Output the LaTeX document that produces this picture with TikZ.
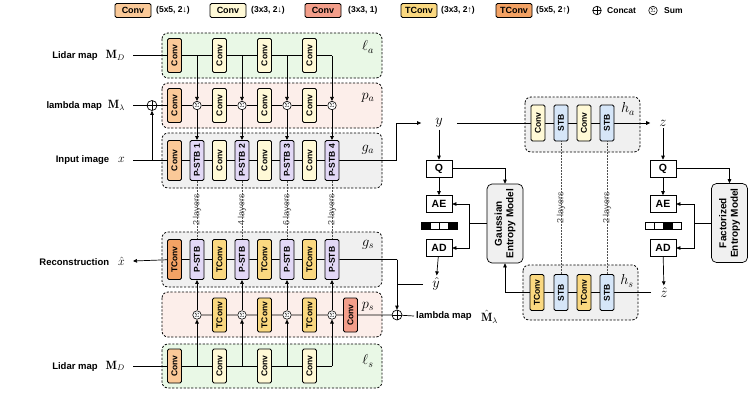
\documentclass[tikz,border=0pt]{standalone}
\usepackage{fontspec}
\setsansfont{Liberation Sans}
\usetikzlibrary{arrows.meta,calc}
\definecolor{cOr}{RGB}{250,201,152}
\definecolor{cYl}{RGB}{255,249,214}
\definecolor{cSa}{RGB}{243,158,138}
\definecolor{cTy}{RGB}{250,216,128}
\definecolor{cTo}{RGB}{243,162,100}
\definecolor{cPs}{RGB}{226,216,246}
\definecolor{cSt}{RGB}{214,230,248}
\definecolor{bGr}{RGB}{233,248,230}
\definecolor{bPk}{RGB}{252,238,234}
\definecolor{bGy}{RGB}{240,240,240}
\definecolor{cLay}{RGB}{80,80,80}
\pgfdeclarelayer{bg}
\pgfdeclarelayer{lines}
\pgfsetlayers{bg,lines,main}
\begin{document}
\begin{tikzpicture}[x=1pt,y=-1pt,
  blk/.style={draw, line width=0.9pt, rounded corners=1.6pt, rotate=90, inner sep=0pt, minimum height=14pt, font=\sffamily\bfseries\fontsize{8.5}{8.5}\selectfont},
  sb/.style={blk, minimum width=34pt},
  gb/.style={blk, minimum width=40pt},
  hb/.style={blk, minimum width=36pt},
  lg/.style={draw, line width=0.9pt, rounded corners=1.6pt, minimum width=36pt, minimum height=14pt, inner sep=0pt, font=\sffamily\bfseries\fontsize{9}{9}\selectfont},
  lt/.style={anchor=west, inner sep=0pt, font=\sffamily\bfseries\fontsize{8.5}{10}\selectfont},
  bgbox/.style={draw, dashed, line width=0.8pt, dash pattern=on 2.2pt off 1.6pt, rounded corners=6pt},
  bl/.style={font=\fontsize{14.4}{14.4}\selectfont, inner sep=0pt},
  sumc/.style={circle, draw, line width=0.6pt, fill=white, minimum size=8.5pt, inner sep=0pt, font=\fontsize{6}{6}\selectfont},
  catc/.style={circle, draw, line width=0.7pt, fill=white, minimum size=10pt, inner sep=0pt,
    path picture={\draw[line width=0.6pt] (path picture bounding box.north) -- (path picture bounding box.south) (path picture bounding box.west) -- (path picture bounding box.east);}},
  ln/.style={line width=0.7pt},
  arr/.style={ln, -{Triangle[length=4pt,width=3.6pt]}},
  dotl/.style={line width=0.5pt, densely dotted, draw=cLay},
  laylab/.style={rotate=90, inner sep=0pt, text=cLay, font=\sffamily\fontsize{9}{9}\selectfont},
  lab/.style={anchor=east, inner xsep=8pt, inner ysep=1pt, font=\sffamily\bfseries\fontsize{9.5}{10}\selectfont},
  qb/.style={draw, line width=0.7pt, minimum width=26pt, minimum height=17pt, inner sep=0pt, fill=white, font=\sffamily\bfseries\fontsize{10.5}{10.5}\selectfont},
  em/.style={draw, line width=0.7pt, rounded corners=5pt, rotate=90, fill=bGy, minimum width=79pt, minimum height=36pt, align=center, inner sep=0pt, font=\sffamily\bfseries\fontsize{10}{11.5}\selectfont},
  mn/.style={font=\fontsize{14.4}{14.4}\selectfont, inner xsep=9pt, inner ysep=2pt}
]
\useasboundingbox (0,0) rectangle (748,392);

% ---------- legend ----------
\node[lg, fill=cOr] (lg1) at (133,10.5) {Conv};
\node[lt] (lt1) at (156,10.5) {(5x5, 2↓)};
\node[lg, fill=cYl] (lg2) at (228,10.5) {Conv};
\node[lt] (lt2) at (251,10.5) {(3x3, 2↓)};
\node[lg, fill=cSa] (lg3) at (323,10.5) {Conv};
\node[lt] (lt3) at (348,10.5) {(3x3, 1)};
\node[lg, fill=cTy] (lg4) at (419,10.5) {TConv};
\node[lt] (lt4) at (441,10.5) {(3x3, 2↑)};
\node[lg, fill=cTo] (lg5) at (514,10.5) {TConv};
\node[lt] (lt5) at (536,10.5) {(5x5, 2↑)};
\node[catc, minimum size=8.5pt] (lg6) at (597,10.5) {};
\node[lt] (lt6) at (607,10.5) {Concat};
\node[sumc] (lg7) at (653,10.5) {$\Sigma$};
\node[lt] (lt7) at (664,10.5) {Sum};

% ---------- background boxes ----------
\begin{pgfonlayer}{bg}
\draw[bgbox, fill=bGr] (162,33) rectangle (382,78);
\draw[bgbox, fill=bPk] (162,83) rectangle (382,128);
\draw[bgbox, fill=bGy] (162,133) rectangle (382,188);
\draw[bgbox, fill=bGy] (162,232) rectangle (382,287);
\draw[bgbox, fill=bPk] (162,292) rectangle (382,337);
\draw[bgbox, fill=bGr] (162,344) rectangle (382,388);
\draw[bgbox, fill=bGy] (525,97) rectangle (640,152);
\draw[bgbox, fill=bGy] (523,265) rectangle (638,320);
\end{pgfonlayer}

\node[bl] (tla) at (368,47) {$\ell_a$};
\node[bl] (tpa) at (368,98) {$p_a$};
\node[bl] (tga) at (368,150) {$g_a$};
\node[bl] (tgs) at (368,245) {$g_s$};
\node[bl] (tps) at (368,307) {$p_s$};
\node[bl] (tls) at (368,361) {$\ell_s$};
\node[bl] (tha) at (628,109) {$h_a$};
\node[bl] (ths) at (627,281) {$h_s$};

% ---------- left labels ----------
\node[lab] (lidA) at (133,55.5) {Lidar map\hspace{8pt}{\fontsize{12}{12}\selectfont$\mathbf{M}_D$}};
\node[lab] (lamA) at (133,105.5) {lambda map\hspace{6pt}{\fontsize{12}{12}\selectfont$\mathbf{M}_\lambda$}};
\node[lab] (inpA) at (133,160.5) {Input image\hspace{9pt}{\fontsize{12}{12}\selectfont$x$}\hspace{8pt}};
\node[lab] (recA) at (133,261) {Reconstruction\hspace{9pt}{\fontsize{12}{12}\selectfont$\hat{x}$}\hspace{7pt}};
\node[lab] (lidB) at (133,366) {Lidar map\hspace{8pt}{\fontsize{12}{12}\selectfont$\mathbf{M}_D$}};

% ---------- l_a ----------
\node[sb, fill=cOr] (la0) at (174.5,55.5) {Conv};
\node[sb, fill=cYl] (la2) at (219.5,55.5) {Conv};
\node[sb, fill=cYl] (la4) at (264.5,55.5) {Conv};
\node[sb, fill=cYl] (la6) at (309.5,55.5) {Conv};
\coordinate (la7) at (332,55.5);

% ---------- p_a ----------
\node[catc] (cat1) at (152,105.5) {};
\node[sb, fill=cOr] (pa0) at (174.5,105.5) {Conv};
\node[sumc] (pa1) at (197,105.5) {$\Sigma$};
\node[sb, fill=cYl] (pa2) at (219.5,105.5) {Conv};
\node[sumc] (pa3) at (242,105.5) {$\Sigma$};
\node[sb, fill=cYl] (pa4) at (264.5,105.5) {Conv};
\node[sumc] (pa5) at (287,105.5) {$\Sigma$};
\node[sb, fill=cYl] (pa6) at (309.5,105.5) {Conv};
\node[sumc] (pa7) at (332,105.5) {$\Sigma$};

% ---------- g_a ----------
\node[gb, fill=cOr] (ga0) at (174.5,160.5) {Conv};
\node[gb, fill=cPs] (ga1) at (197,160.5) {P-STB 1};
\node[gb, fill=cYl] (ga2) at (219.5,160.5) {Conv};
\node[gb, fill=cPs] (ga3) at (242,160.5) {P-STB 2};
\node[gb, fill=cYl] (ga4) at (264.5,160.5) {Conv};
\node[gb, fill=cPs] (ga5) at (287,160.5) {P-STB 3};
\node[gb, fill=cYl] (ga6) at (309.5,160.5) {Conv};
\node[gb, fill=cPs] (ga7) at (332,160.5) {P-STB 4};
\coordinate (gaout) at (396,160.5);

% ---------- g_s ----------
\node[gb, fill=cTo] (gs0) at (174.5,259.5) {TConv};
\node[gb, fill=cPs] (gs1) at (197,259.5) {P-STB};
\node[gb, fill=cTy] (gs2) at (219.5,259.5) {TConv};
\node[gb, fill=cPs] (gs3) at (242,259.5) {P-STB};
\node[gb, fill=cTy] (gs4) at (264.5,259.5) {TConv};
\node[gb, fill=cPs] (gs5) at (287,259.5) {P-STB};
\node[gb, fill=cTy] (gs6) at (309.5,259.5) {TConv};
\node[gb, fill=cPs] (gs7) at (332,259.5) {P-STB};
\coordinate (gsin) at (397,259.5);

% ---------- p_s ----------
\node[sumc] (ps1) at (197,315) {$\Sigma$};
\node[sb, fill=cTy] (ps2) at (219.5,315) {TConv};
\node[sumc] (ps3) at (242,315) {$\Sigma$};
\node[sb, fill=cTy] (ps4) at (264.5,315) {TConv};
\node[sumc] (ps5) at (287,315) {$\Sigma$};
\node[sb, fill=cTy] (ps6) at (309.5,315) {TConv};
\node[sumc] (ps7) at (332,315) {$\Sigma$};
\node[sb, fill=cSa] (ps8) at (350.5,315) {Conv};
\node[catc] (cat2) at (397,315) {};
\node[anchor=west, inner sep=2pt, font=\sffamily\bfseries\fontsize{9.5}{10}\selectfont] (lamB) at (414,316) {lambda map};
\node[anchor=west, inner sep=0pt, font=\fontsize{12}{12}\selectfont] (lamBm) at ([xshift=7pt,yshift=-0.5pt]lamB.east) {$\hat{\mathbf{M}}_\lambda$};

% ---------- l_s ----------
\node[sb, fill=cOr] (ls0) at (174.5,366) {Conv};
\node[sb, fill=cYl] (ls2) at (219.5,366) {Conv};
\node[sb, fill=cYl] (ls4) at (264.5,366) {Conv};
\node[sb, fill=cYl] (ls6) at (309.5,366) {Conv};
\coordinate (ls7) at (332,366);

% ---------- hyper ----------
\node[mn, inner xsep=14pt] (ynode) at (439,123) {$y$};
\node[hb, fill=cYl] (ha1) at (538,123) {Conv};
\node[hb, fill=cSt] (ha2) at (561,123) {STB};
\node[hb, fill=cYl] (ha3) at (584,123) {Conv};
\node[hb, fill=cSt] (ha4) at (607,123) {STB};
\node[mn] (znode) at (663,123) {$z$};

\node[hb, fill=cTy] (hs1) at (537,292.5) {TConv};
\node[hb, fill=cSt] (hs2) at (561,292.5) {STB};
\node[hb, fill=cTy] (hs3) at (584,292.5) {TConv};
\node[hb, fill=cSt] (hs4) at (607,292.5) {STB};
\node[mn] (zhat) at (664,292.5) {$\hat{z}$};
\coordinate (hsout) at (505,292.5);

\node[qb] (q1) at (439,168.5) {Q};
\node[qb] (ae1) at (439,204) {AE};
\node[qb] (ad1) at (439,248) {AD};
\node[mn] (yhat) at (436,284) {$\hat{y}$};
\node[em] (gem) at (505,223.5) {Gaussian\\Entropy Model};
\coordinate (j1) at (469,223.5);

\node[qb] (q2) at (663,168.5) {Q};
\node[qb] (ae2) at (663,204) {AE};
\node[qb] (ad2) at (663,248) {AD};
\node[em] (fem) at (729.5,223) {Factorized\\Entropy Model};
\coordinate (j2) at (694,223);

\foreach \i/\c in {0/black,1/white,2/white,3/black}
  \draw[line width=0.6pt, fill=\c] (421+9*\i,222) rectangle ++(9,7);
\foreach \i/\c in {0/white,1/white,2/black,3/white}
  \draw[line width=0.6pt, fill=\c] (645+9*\i,222) rectangle ++(9,7);

% ---------- connectors ----------
\begin{pgfonlayer}{lines}
% encoder
\draw[ln] (lidA.east) -- (la0) -- (la2) -- (la4) -- (la6) -- (la7);
\draw[ln] (lamA.east) -- (cat1) -- (pa0) -- (pa1) -- (pa2) -- (pa3) -- (pa4) -- (pa5) -- (pa6) -- (pa7);
\draw[ln] (inpA.east) -- (ga0) -- (ga1) -- (ga2) -- (ga3) -- (ga4) -- (ga5) -- (ga6) -- (ga7) -- (gaout);
\draw[arr] (gaout) |- (ynode);
\draw[arr] (cat1 |- ga0) -- (cat1);
\foreach \k in {1,3,5}{
  \draw[arr] (pa\k |- la0) -- (pa\k);
}
\draw[arr] (la7) -- (pa7);
\foreach \k in {1,3,5,7}{
  \draw[arr] (pa\k) -- (ga\k);
}
% decoder
\draw[arr] (gsin) -- (gs7) -- (gs6) -- (gs5) -- (gs4) -- (gs3) -- (gs2) -- (gs1) -- (gs0) -- (recA.east);
\draw[ln] (yhat) -- (yhat -| gsin) -- (gsin);
\draw[arr] (gsin) -- (cat2);
\draw[ln] (lamB.west) -- (cat2) -- (ps8) -- (ps7) -- (ps6) -- (ps5) -- (ps4) -- (ps3) -- (ps2) -- (ps1);
\draw[ln] (lidB.east) -- (ls0) -- (ls2) -- (ls4) -- (ls6) -- (ls7);
\foreach \k in {1,3,5}{
  \draw[arr] (ps\k |- ls0) -- (ps\k);
}
\draw[arr] (ls7) -- (ps7);
\foreach \k in {1,3,5,7}{
  \draw[arr] (ps\k) -- (gs\k);
}
% layers
\draw[dotl] (ga1) -- node[laylab]{2 layers} (gs1);
\draw[dotl] (ga3) -- node[laylab]{4 layers} (gs3);
\draw[dotl] (ga5) -- node[laylab]{6 layers} (gs5);
\draw[dotl] (ga7) -- node[laylab]{2 layers} (gs7);
\draw[dotl] (ha2) -- node[laylab]{2 layers} (hs2);
\draw[dotl] (ha4) -- node[laylab]{2 layers} (hs4);
% hyperprior
\draw[ln] (ynode) -- (ha1) -- (ha2) -- (ha3) -- (ha4);
\draw[arr] (ha4) -- (znode);
\draw[arr] (ynode) -- (q1);
\draw[arr] (q1) -- (ae1);
\draw[arr] (ad1) -- (yhat);
\draw[arr] (q1) -| (gem);
\draw[ln] (gem) -- (j1);
\draw[arr] (j1) |- (ae1);
\draw[arr] (j1) |- (ad1);
\draw[arr] (znode) -- (q2);
\draw[arr] (q2) -- (ae2);
\draw[arr] (ad2) -- (zhat);
\draw[arr] (q2) -| (fem);
\draw[ln] (fem) -- (j2);
\draw[arr] (j2) |- (ae2);
\draw[arr] (j2) |- (ad2);
\draw[ln] (zhat) -- (hs4) -- (hs3) -- (hs2) -- (hs1) -- (hsout);
\draw[arr] (hsout) -- (gem);
\end{pgfonlayer}
\end{tikzpicture}
\end{document}
